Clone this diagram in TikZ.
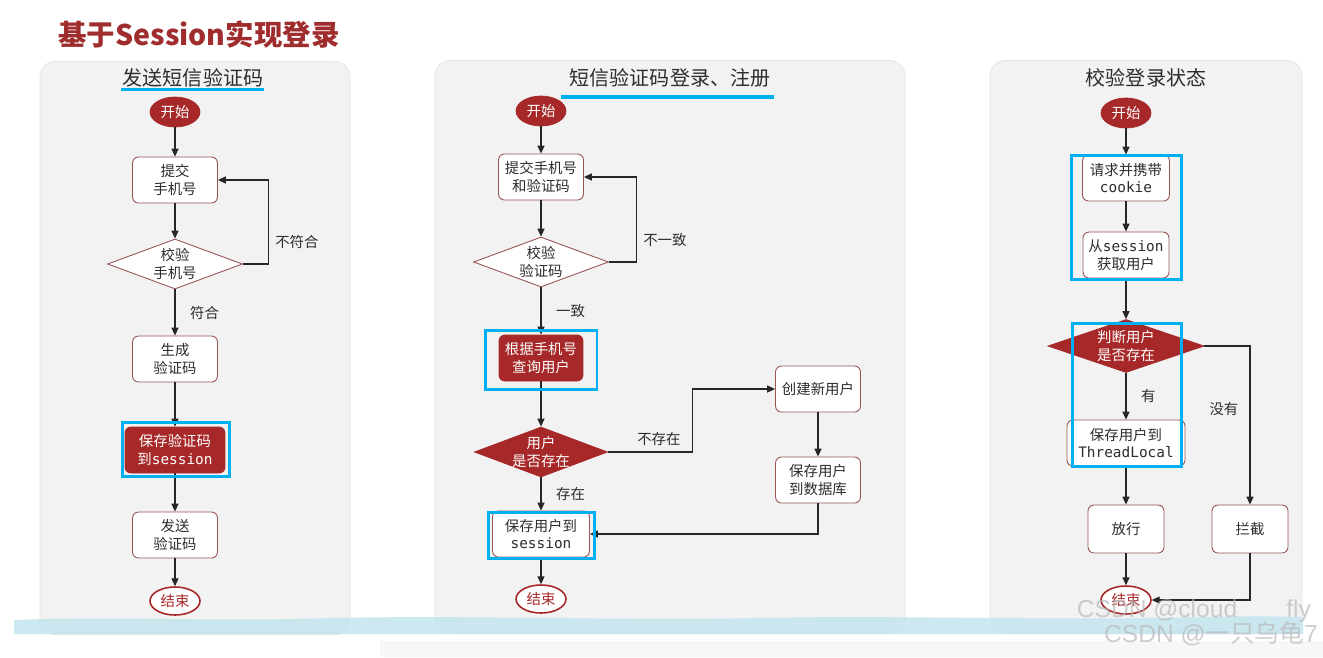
\documentclass[tikz,border=0pt]{standalone}
\usepackage{fontspec}
\setmainfont{Noto Sans CJK SC}
\newfontfamily\codefont{DejaVu Sans Mono}
\newfontfamily\wmfont{Liberation Sans}
\usepackage{tikz}
\usetikzlibrary{arrows.meta, positioning, shapes.geometric, shadows}
\definecolor{darkred}{RGB}{166,40,40}
\definecolor{titlered}{RGB}{160,45,45}
\definecolor{edgered}{RGB}{150,85,85}
\definecolor{panelgray}{RGB}{242,242,242}
\definecolor{hiblue}{RGB}{0,176,240}
\definecolor{wavecol}{RGB}{196,229,239}
\definecolor{txt}{RGB}{45,45,45}

\begin{document}
\begin{tikzpicture}[x=0.02cm, y=-0.02cm,
    panelbg/.style={rectangle, rounded corners=0.3cm, fill=panelgray, draw=black!10,
                    drop shadow={opacity=0.18, shadow xshift=0pt, shadow yshift=-1.5pt},
                    minimum height=11.42cm},
    panelhead/.style={font=\fontsize{11.4}{13}\selectfont, text=txt},
    procbox/.style={rectangle, rounded corners=0.12cm, draw=edgered, fill=white, line width=0.5pt,
                    minimum width=1.7cm, minimum height=0.92cm, align=center, inner sep=1pt,
                    font=\fontsize{8.2}{10.2}\selectfont, text=txt},
    redbox/.style={procbox, fill=darkred, draw=darkred, text=white},
    decision/.style={diamond, draw=edgered, fill=white, line width=0.5pt, aspect=2.7,
                     minimum width=2.7cm, minimum height=1cm, inner sep=-1.5pt, align=center,
                     font=\fontsize{8.2}{10.2}\selectfont, text=txt},
    reddecision/.style={decision, fill=darkred, draw=darkred, text=white},
    startnode/.style={ellipse, fill=darkred, draw=darkred, text=white, minimum width=1cm,
                      minimum height=0.6cm, inner sep=0pt, font=\fontsize{8.2}{10}\selectfont},
    endnode/.style={ellipse, fill=white, draw=darkred, line width=0.9pt, text=darkred,
                    minimum width=1cm, minimum height=0.56cm, inner sep=0pt,
                    font=\fontsize{8.2}{10}\selectfont},
    flowarrow/.style={-{Triangle[length=4.5pt, width=4pt]}, line width=0.6pt, black!85},
    lbl/.style={font=\fontsize{8.2}{10}\selectfont, text=txt},
    hilite/.style={draw=hiblue, line width=1.7pt},
    uline/.style={draw=hiblue, line width=2pt}
]
\useasboundingbox[fill=white] (0,0) rectangle (1323,657);
\fill[black!3] (380,641) rectangle (1323,657);

\node[font=\bfseries\fontsize{16.2}{19}\selectfont, text=titlered] (title) at (199,35) {基于Session实现登录};

\node[panelbg, minimum width=6.2cm] (p1) at (195,347) {};
\node[panelbg, minimum width=9.4cm] (p2) at (670,346) {};
\node[panelbg, minimum width=6.24cm] (p3) at (1146,346) {};
\fill[wavecol, opacity=0.85] (14,620) .. controls (120,616) and (220,622) .. (330,618)
  .. controls (480,615) and (620,621) .. (760,618) .. controls (900,615) and (1050,621) .. (1200,617)
  .. controls (1250,616) .. (1303,617) -- (1303,634) -- (14,634) -- cycle;

% panel 1
\node[panelhead] (head1) at (193,78) {发送短信验证码};
\draw[uline] (121,89.5) -- (264,89.5);
\node[startnode] (start1) at (175,112) {开始};
\node[procbox] (submit1) at (175,180) {提交\\手机号};
\node[decision] (check1) at (175,264) {校验\\手机号};
\node[procbox] (gen1) at (175,359) {生成\\验证码};
\node[redbox, minimum width=2cm] (save1) at (175,450) {保存验证码\\到{\codefont session}};
\node[procbox] (send1) at (175,535) {发送\\验证码};
\node[endnode] (end1) at (175,601) {结束};
\draw[flowarrow] (start1) -- (submit1);
\draw[flowarrow] (submit1) -- (check1);
\draw[flowarrow] (check1.east) -- ++(26,0) |- node[lbl, pos=0.13, right] {不符合} (submit1.east);
\draw[flowarrow] (check1) -- node[lbl, right=5pt] {符合} (gen1);
\draw[flowarrow] (gen1) -- (save1);
\draw[flowarrow] (save1) -- (send1);
\draw[flowarrow] (send1) -- (end1);
\draw[hilite] (122.5,422.5) rectangle (229.5,476.5);

% panel 2
\node[panelhead] (head2) at (670,78) {短信验证码登录、注册};
\draw[uline] (561,97) -- (774,97);
\node[startnode] (start2) at (541,111) {开始};
\node[procbox] (submit2) at (541,177) {提交手机号\\和验证码};
\node[decision] (check2) at (541,262) {校验\\验证码};
\node[redbox, minimum width=1.68cm] (query2) at (541,358) {根据手机号\\查询用户};
\node[reddecision, minimum width=2.66cm] (exist2) at (541,452) {用户\\是否存在};
\node[procbox] (create2) at (818,389) {创建新用户};
\node[procbox] (savedb2) at (818,480) {保存用户\\到数据库};
\node[procbox, minimum width=1.94cm] (savesess2) at (541,534) {保存用户到\\{\codefont session}};
\node[endnode] (end2) at (541,599) {结束};
\draw[flowarrow] (start2) -- (submit2);
\draw[flowarrow] (submit2) -- (check2);
\draw[flowarrow] (check2.east) -- ++(28,0) |- node[lbl, pos=0.13, right] {不一致} (submit2.east);
\draw[flowarrow] (check2) -- node[lbl, right=5pt] {一致} (query2);
\draw[flowarrow] (query2) -- (exist2);
\draw[flowarrow] (exist2.east) -- node[lbl, above, pos=0.6] {不存在} ++(85,0) |- (create2.west);
\draw[flowarrow] (create2) -- (savedb2);
\draw[flowarrow] (savedb2.south) |- (savesess2.east);
\draw[flowarrow] (exist2) -- node[lbl, right=5pt] {存在} (savesess2);
\draw[flowarrow] (savesess2) -- (end2);
\draw[hilite] (485.5,330.5) rectangle (597,389);
\draw[hilite] (488.5,512.5) rectangle (594.5,558.5);

% panel 3
\node[panelhead] (head3) at (1146,78) {校验登录状态};
\node[startnode] (start3) at (1126,113) {开始};
\node[procbox, minimum width=1.74cm] (cookie3) at (1126,178) {请求并携带\\{\codefont cookie}};
\node[procbox, minimum width=1.72cm] (getuser3) at (1126,255) {从{\codefont session}\\获取用户};
\node[reddecision, minimum width=3.12cm, minimum height=1.06cm] (judge3) at (1126,346) {判断用户\\是否存在};
\node[procbox, minimum width=2.36cm] (savetl3) at (1126,443) {保存用户到\\{\codefont ThreadLocal}};
\node[procbox, minimum width=1.52cm, minimum height=0.96cm] (pass3) at (1126,529) {放行};
\node[procbox, minimum width=1.52cm, minimum height=0.96cm] (block3) at (1250,529) {拦截};
\node[endnode] (end3) at (1126,600) {结束};
\draw[flowarrow] (start3) -- (cookie3);
\draw[flowarrow] (cookie3) -- (getuser3);
\draw[flowarrow] (getuser3) -- (judge3);
\draw[flowarrow] (judge3) -- node[lbl, right=5pt] {有} (savetl3);
\draw[flowarrow] (judge3.east) -| node[lbl, pos=0.7, left=3pt] {没有} (block3.north);
\draw[flowarrow] (savetl3) -- (pass3);
\draw[flowarrow] (pass3) -- (end3);
\draw[flowarrow] (block3.south) |- (end3.east);
\draw[hilite] (1071,155) rectangle (1181,279);
\draw[hilite] (1072,323) rectangle (1181,466);

\node[text=gray!55, opacity=0.7, font=\wmfont\fontsize{14}{16}\selectfont] (wm1) at (1194,611) {CSDN @cloud\quad\quad fly};
\node[text=gray!55, opacity=0.7, font=\fontsize{14}{16}\selectfont] (wm2) at (1211,634) {{\wmfont CSDN @}一只乌龟{\wmfont 7}};
\end{tikzpicture}
\end{document}
